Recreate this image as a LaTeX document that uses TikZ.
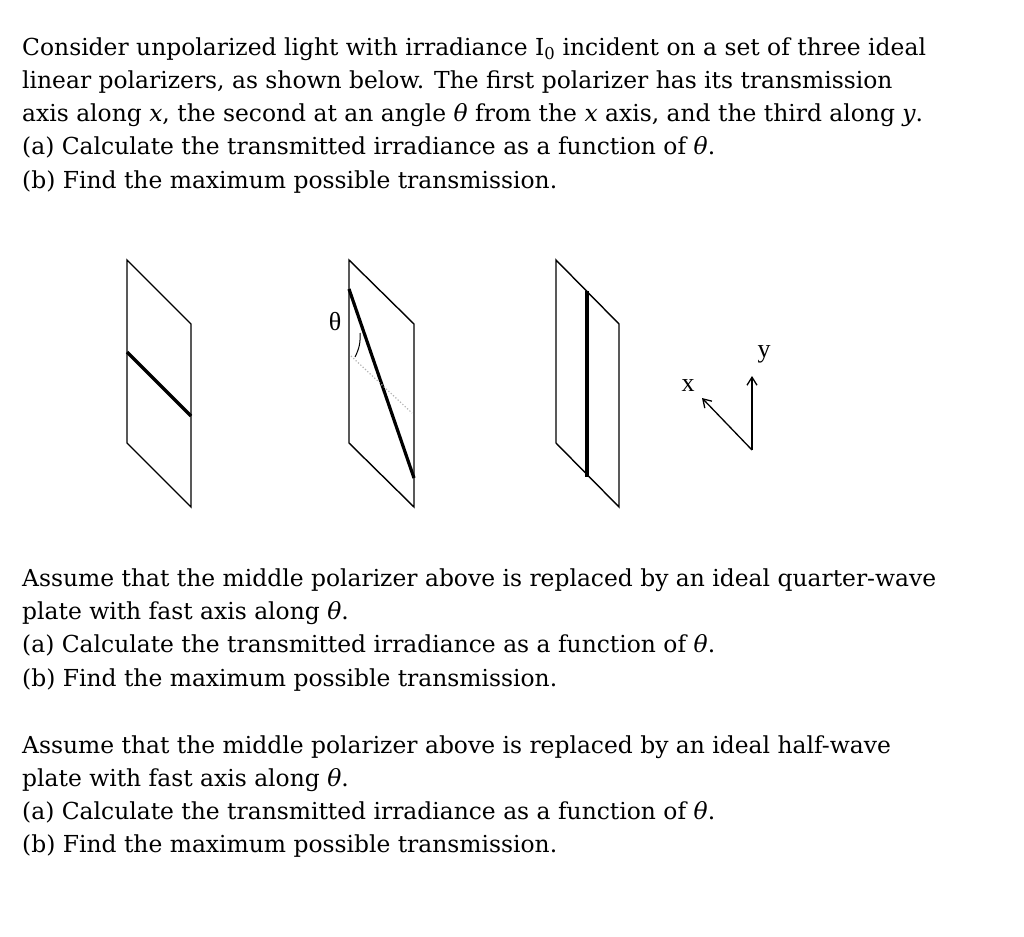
\documentclass[tikz,border=0pt]{standalone}
\usepackage{fontspec}
\usetikzlibrary{arrows.meta}
\setmainfont{DejaVu Serif}
\begin{document}
\begin{tikzpicture}[x=1pt,y=-1pt,
  txt/.style={anchor=base west,inner sep=0pt,font=\fontsize{23.4}{28}\selectfont},
  plate/.style={draw,line width=1.4pt,line join=miter},
  axis/.style={line width=3.2pt},
  lbl/.style={inner sep=0pt}]
\useasboundingbox (0,0) rectangle (1024,936);
\node[txt] (l1) at (22,56) {Consider unpolarized light with irradiance I\textsubscript{0} incident on a set of three ideal};
\node[txt] (l2) at (22,89) {linear polarizers, as shown below. The first polarizer has its transmission};
\node[txt] (l3) at (22,122) {axis along \textit{x}, the second at an angle \textit{θ} from the \textit{x} axis, and the third along \textit{y}.};
\node[txt] (l4) at (22,155) {(a) Calculate the transmitted irradiance as a function of \textit{θ}.};
\node[txt] (l5) at (22,188) {(b) Find the maximum possible transmission.};
\node[txt] (m1) at (22,586) {Assume that the middle polarizer above is replaced by an ideal quarter-wave};
\node[txt] (m2) at (22,619) {plate with fast axis along \textit{θ}.};
\node[txt] (m3) at (22,652) {(a) Calculate the transmitted irradiance as a function of \textit{θ}.};
\node[txt] (m4) at (22,686) {(b) Find the maximum possible transmission.};
\node[txt] (n1) at (22,753) {Assume that the middle polarizer above is replaced by an ideal half-wave};
\node[txt] (n2) at (22,786) {plate with fast axis along \textit{θ}.};
\node[txt] (n3) at (22,819) {(a) Calculate the transmitted irradiance as a function of \textit{θ}.};
\node[txt] (n4) at (22,852) {(b) Find the maximum possible transmission.};
% plate 1
\draw[plate] (127,260) -- (191,324) -- (191,507) -- (127,443) -- cycle;
\draw[axis] (127,352) -- (191,416);
% plate 2
\draw[plate] (349,260) -- (414,324) -- (414,507) -- (349,443) -- cycle;
\draw[axis] (349,289) -- (414,478);
\draw[gray!60,dotted,line width=1.2pt] (351,356) -- (412,413);
\draw[line width=1pt] (360,333) to[bend left=15] (355,357);
\node[lbl,font=\fontsize{26}{30}\fontspec{Liberation Serif}] (th) at (335,322) {θ};
% plate 3
\draw[plate] (556,260) -- (619,324) -- (619,507) -- (556,443) -- cycle;
\draw[axis] (587,291) -- (587,477);
% axes
\coordinate (o) at (752,450);
\coordinate (ye) at (752,376);
\coordinate (xe) at (702,398);
\draw[line width=1.3pt,->,>={Straight Barb[length=8pt,width=10pt]}] (o) -- (ye);
\draw[line width=1.3pt,->,>={Straight Barb[length=8pt,width=10pt]}] (o) -- (xe);
\node[lbl,font=\fontsize{26}{30}\fontspec{Liberation Serif}] (yl) at (764,354) {y};
\node[lbl,font=\fontsize{26}{30}\fontspec{Liberation Serif}] (xl) at (688,386) {x};
\end{tikzpicture}
\end{document}
